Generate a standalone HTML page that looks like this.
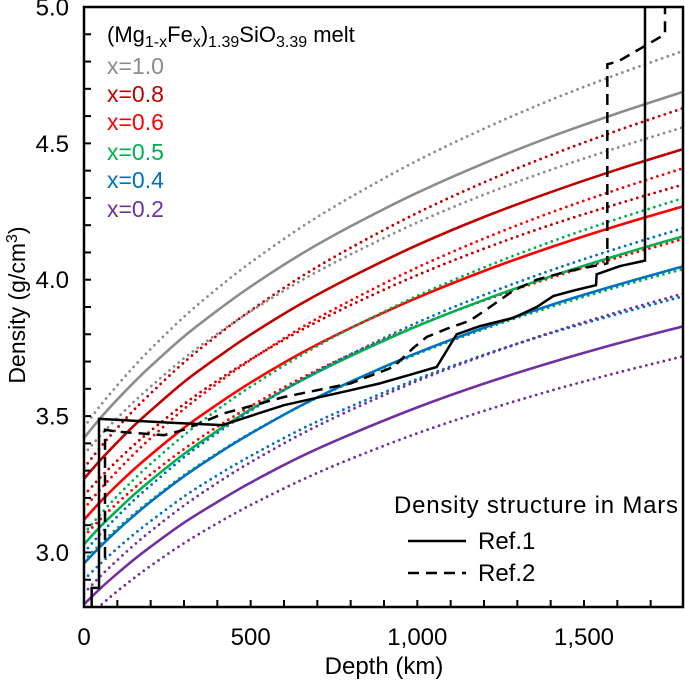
<!DOCTYPE html>
<html><head><meta charset="utf-8"><style>
html,body{margin:0;padding:0;background:#fff;}
svg{display:block;font-family:"Liberation Sans",Arial,sans-serif;}
</style></head><body>
<svg id="chart" width="685" height="683" viewBox="0 0 685 683" xmlns="http://www.w3.org/2000/svg">
<defs><clipPath id="plotclip"><rect x="84" y="7" width="599" height="600"/></clipPath></defs>
<g id="series" clip-path="url(#plotclip)"></g>
<g id="axes"></g>
<g font-size="23">
<text x="107" y="42" fill="#000" font-size="22">(Mg<tspan font-size="16" dy="5">1-x</tspan><tspan dy="-5">Fe</tspan><tspan font-size="16" dy="5">x</tspan><tspan dy="-5">)</tspan><tspan font-size="16" dy="5">1.39</tspan><tspan dy="-5">SiO</tspan><tspan font-size="16" dy="5">3.39</tspan><tspan dy="-5"> melt</tspan></text>
<text x="107" y="74" fill="#8c8c8c">x=1.0</text>
<text x="107" y="102" fill="#c00000">x=0.8</text>
<text x="107" y="130" fill="#ff0000">x=0.6</text>
<text x="107" y="160" fill="#00b050">x=0.5</text>
<text x="107" y="188" fill="#0070c0">x=0.4</text>
<text x="107" y="217" fill="#7030a0">x=0.2</text>
</g>
<g font-size="24">
<text x="394" y="513" textLength="284">Density structure in Mars</text>
<line x1="408" y1="541" x2="466" y2="541" stroke="#000" stroke-width="2.5"/>
<text x="478" y="549">Ref.1</text>
<line x1="408" y1="573" x2="466" y2="573" stroke="#000" stroke-width="2.5" stroke-dasharray="11 7"/>
<text x="478" y="581">Ref.2</text>
</g>
<text x="384" y="674" font-size="24" text-anchor="middle">Depth (km)</text>
<text transform="translate(25,305) rotate(-90)" font-size="23" text-anchor="middle">Density (g/cm<tspan font-size="16" dy="-8">3</tspan><tspan dy="8">)</tspan></text>
</svg>
<script>
const depths = [0,50,100,150,200,300,400,500,650,800,1000,1200,1400,1600,1800];
const gray = [3.420,3.494,3.561,3.624,3.683,3.792,3.887,3.975,4.093,4.196,4.319,4.427,4.524,4.610,4.690];
const grayUp = [3.460,3.540,3.613,3.682,3.746,3.864,3.968,4.063,4.191,4.303,4.437,4.554,4.659,4.753,4.840];
const grayLo = [3.360,3.430,3.493,3.553,3.608,3.712,3.802,3.884,3.996,4.093,4.210,4.312,4.403,4.484,4.560];
const darkRed = [3.270,3.340,3.404,3.465,3.520,3.625,3.715,3.799,3.911,4.009,4.127,4.230,4.321,4.404,4.480];
const darkRedUp = [3.310,3.387,3.457,3.523,3.583,3.697,3.796,3.887,4.010,4.117,4.245,4.357,4.457,4.547,4.630];
const darkRedLo = [3.210,3.276,3.337,3.394,3.446,3.544,3.630,3.708,3.814,3.907,4.017,4.114,4.201,4.278,4.350];
const red = [3.120,3.187,3.248,3.305,3.358,3.457,3.543,3.623,3.730,3.823,3.934,4.032,4.119,4.198,4.270];
const redUp = [3.160,3.233,3.299,3.361,3.419,3.526,3.620,3.706,3.823,3.924,4.045,4.151,4.246,4.331,4.410];
const redLo = [3.060,3.123,3.181,3.235,3.286,3.379,3.461,3.536,3.638,3.726,3.832,3.924,4.007,4.081,4.150];
const green = [3.030,3.096,3.155,3.212,3.264,3.361,3.446,3.524,3.629,3.720,3.830,3.926,4.012,4.089,4.160];
const greenUp = [3.070,3.141,3.207,3.268,3.325,3.430,3.523,3.608,3.722,3.822,3.941,4.045,4.139,4.223,4.300];
const greenLo = [2.970,3.032,3.089,3.142,3.191,3.284,3.364,3.438,3.537,3.624,3.728,3.819,3.900,3.973,4.040];
const blue = [2.960,3.023,3.081,3.135,3.186,3.279,3.361,3.436,3.538,3.626,3.732,3.824,3.907,3.981,4.050];
const blueUp = [3.000,3.069,3.132,3.192,3.246,3.349,3.438,3.520,3.631,3.727,3.843,3.944,4.034,4.115,4.190];
const blueLo = [2.900,2.960,3.015,3.067,3.115,3.205,3.283,3.354,3.451,3.535,3.636,3.725,3.804,3.874,3.940];
const purple = [2.810,2.869,2.923,2.974,3.021,3.109,3.185,3.256,3.351,3.433,3.532,3.619,3.696,3.766,3.830];
const purpleUp = [2.850,2.914,2.972,3.027,3.078,3.172,3.255,3.331,3.433,3.522,3.629,3.722,3.806,3.881,3.950];
const purpleLo = [2.750,2.806,2.858,2.906,2.951,3.034,3.107,3.174,3.264,3.343,3.437,3.519,3.593,3.659,3.720];
const ref1Depth = [23,23,45,45,270,415,600,800,888,988,1058,1118,1188,1288,1358,1408,1468,1536,1538,1608,1683,1683];
const ref1Dens = [2.8,2.87,2.87,3.49,3.475,3.467,3.54,3.595,3.62,3.655,3.68,3.80,3.83,3.86,3.90,3.94,3.96,3.98,4.02,4.05,4.07,5.0];
const ref2Depth = [63,63,100,240,300,420,600,800,928,988,1028,1088,1158,1218,1288,1358,1448,1528,1570,1570,1602,1743,1743];
const ref2Dens = [2.98,3.45,3.443,3.43,3.45,3.51,3.57,3.62,3.68,3.75,3.79,3.82,3.85,3.90,3.96,4.00,4.03,4.05,4.06,4.79,4.80,4.90,5.0];
const xTickLabels = [0, 500, 1000, 1500];
const yTickLabels = [3.0, 3.5, 4.0, 4.5, 5.0];

const NS = "http://www.w3.org/2000/svg";
const X0 = 84, X1 = 684, Y0 = 607, Y1 = 7;
const xMin = 0, xMax = 1800, yMin = 2.8, yMax = 5.0;
function sx(d){ return X0 + (d - xMin) / (xMax - xMin) * (X1 - X0); }
function sy(v){ return Y0 - (v - yMin) / (yMax - yMin) * (Y0 - Y1); }
function smoothPath(xs, ys){
  const p = xs.map((d,i)=>[sx(d), sy(ys[i])]);
  let s = "M" + p[0][0].toFixed(2) + "," + p[0][1].toFixed(2);
  for (let i=0;i<p.length-1;i++){
    const a = p[Math.max(i-1,0)], b = p[i], c = p[i+1], e = p[Math.min(i+2,p.length-1)];
    const c1 = [b[0]+(c[0]-a[0])/6, b[1]+(c[1]-a[1])/6];
    const c2 = [c[0]-(e[0]-b[0])/6, c[1]-(e[1]-b[1])/6];
    s += " C"+c1[0].toFixed(2)+","+c1[1].toFixed(2)+" "+c2[0].toFixed(2)+","+c2[1].toFixed(2)+" "+c[0].toFixed(2)+","+c[1].toFixed(2);
  }
  return s;
}
function linePath(xs, ys){
  return xs.map((d,i)=>(i?"L":"M")+sx(d).toFixed(2)+","+sy(ys[i]).toFixed(2)).join(" ");
}
const g = document.getElementById("series");
function addCurve(vals, color, dotted, name){
  const el = document.createElementNS(NS, "path");
  el.setAttribute("d", smoothPath(depths, vals));
  el.setAttribute("fill", "none");
  el.setAttribute("stroke", color);
  el.setAttribute("stroke-width", dotted ? "2.8" : "2.6");
  if (dotted){ el.setAttribute("stroke-dasharray", "0 6"); el.setAttribute("stroke-linecap", "round"); }
  
  
  g.appendChild(el);
}
addCurve(grayUp, "#8c8c8c", true, "x1.0-upper-dotted");
addCurve(grayLo, "#8c8c8c", true, "x1.0-lower-dotted");
addCurve(gray, "#8c8c8c", false, "x1.0-curve");
addCurve(darkRedUp, "#c00000", true, "x0.8-upper-dotted");
addCurve(darkRedLo, "#c00000", true, "x0.8-lower-dotted");
addCurve(darkRed, "#c00000", false, "x0.8-curve");
addCurve(redUp, "#ff0000", true, "x0.6-upper-dotted");
addCurve(redLo, "#ff0000", true, "x0.6-lower-dotted");
addCurve(red, "#ff0000", false, "x0.6-curve");
addCurve(greenUp, "#00b050", true, "x0.5-upper-dotted");
addCurve(greenLo, "#00b050", true, "x0.5-lower-dotted");
addCurve(green, "#00b050", false, "x0.5-curve");
addCurve(blueUp, "#0070c0", true, "x0.4-upper-dotted");
addCurve(blueLo, "#0070c0", true, "x0.4-lower-dotted");
addCurve(blue, "#0070c0", false, "x0.4-curve");
addCurve(purpleUp, "#7030a0", true, "x0.2-upper-dotted");
addCurve(purpleLo, "#7030a0", true, "x0.2-lower-dotted");
addCurve(purple, "#7030a0", false, "x0.2-curve");

const r1 = document.createElementNS(NS, "path");
r1.setAttribute("d", linePath(ref1Depth, ref1Dens));
r1.setAttribute("fill", "none"); r1.setAttribute("stroke", "#000"); r1.setAttribute("stroke-width", "2.5");


g.appendChild(r1);
const r2 = document.createElementNS(NS, "path");
r2.setAttribute("d", linePath(ref2Depth, ref2Dens));
r2.setAttribute("fill", "none"); r2.setAttribute("stroke", "#000"); r2.setAttribute("stroke-width", "2.5");
r2.setAttribute("stroke-dasharray", "11 7");


g.appendChild(r2);

const ax = document.getElementById("axes");
const frame = document.createElementNS(NS, "rect");
frame.setAttribute("x", X0); frame.setAttribute("y", Y1);
frame.setAttribute("width", 599); frame.setAttribute("height", Y0 - Y1);
frame.setAttribute("fill", "none"); frame.setAttribute("stroke", "#000"); frame.setAttribute("stroke-width", "2.5");


ax.appendChild(frame);
for (let d = 100; d < 1800; d += 100){
  const t = document.createElementNS(NS, "line");
  t.setAttribute("x1", sx(d)); t.setAttribute("x2", sx(d));
  t.setAttribute("y1", Y0); t.setAttribute("y2", Y0 - 7);
  t.setAttribute("stroke", "#000"); t.setAttribute("stroke-width", "2");
  
  
  ax.appendChild(t);
}
for (let k = 1; k < 22; k++){
  const v = 2.8 + k * 0.1;
  const t = document.createElementNS(NS, "line");
  t.setAttribute("x1", X0); t.setAttribute("x2", X0 + 7);
  t.setAttribute("y1", sy(v)); t.setAttribute("y2", sy(v));
  t.setAttribute("stroke", "#000"); t.setAttribute("stroke-width", "2");
  
  
  ax.appendChild(t);
}
xTickLabels.forEach(v => {
  const t = document.createElementNS(NS, "text");
  t.setAttribute("x", sx(v)); t.setAttribute("y", 645);
  t.setAttribute("text-anchor", "middle"); t.setAttribute("font-size", "24");
  t.textContent = v.toLocaleString("en-US");
  
  
  ax.appendChild(t);
});
yTickLabels.forEach(v => {
  const t = document.createElementNS(NS, "text");
  t.setAttribute("x", 69); t.setAttribute("y", sy(v) + 8.5);
  t.setAttribute("text-anchor", "end"); t.setAttribute("font-size", "24");
  t.textContent = v.toFixed(1);
  
  
  ax.appendChild(t);
});
</script>
</body></html>
